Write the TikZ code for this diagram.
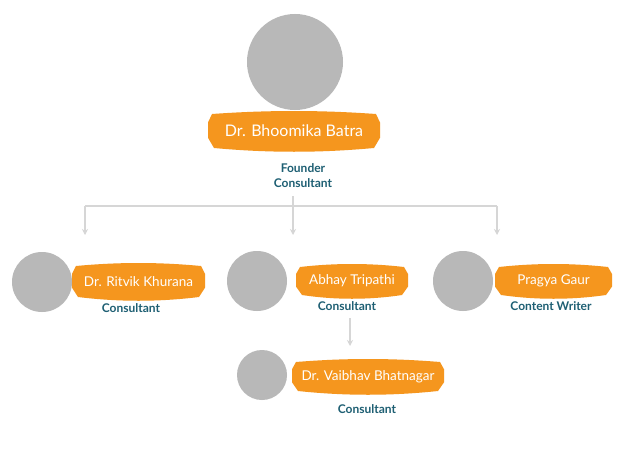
\documentclass[tikz,border=0pt]{standalone}
\usepackage{fontspec}
\setmainfont{Lato}
\definecolor{org}{HTML}{F5961E}
\definecolor{tealc}{HTML}{1E5F73}
\definecolor{lgrey}{HTML}{D6D6D6}
\definecolor{photog}{HTML}{B8B8B8}
\usetikzlibrary{arrows.meta}
\tikzset{
  lbltext/.style={text=white,font=\fontsize{#1}{#1}\selectfont},
  captext/.style={text=tealc,font=\fontsize{12}{15}\selectfont\bfseries,align=center},
  conn/.style={draw=lgrey,line width=1.2pt},
  arr/.style={conn,-{Stealth[length=6pt,width=6pt]}},
  photocirc/.style={fill=photog,circle}
}
% #1 name, #2 x1, #3 x2, #4 ytop, #5 ybot, #6 size, #7 text
\newcommand\orglbl[7]{%
  \pgfmathsetmacro\ym{(#4+#5)/2}%
  \pgfmathsetmacro\hh{#5-#4}%
  \fill[org] (#2,{#4+0.25*\hh}) -- (#2,{#4+0.7*\hh}) -- ({#2+6},#5)
     .. controls ({#2+(#3-#2)*0.35},{#5+5}) and ({#3-(#3-#2)*0.35},{#5+5}) .. ({#3-6},#5)
     -- (#3,{#4+0.7*\hh}) -- (#3,{#4+0.25*\hh}) -- ({#3-4},#4)
     .. controls ({#3-(#3-#2)*0.35},{#4-4}) and ({#2+(#3-#2)*0.35},{#4-4}) .. ({#2+4},#4) -- cycle;
  \node[lbltext=#6] (#1) at ({(#2+#3)/2},\ym) {#7};}
\begin{document}
\begin{tikzpicture}[x=1pt,y=-1pt]
\useasboundingbox[fill=white] (0,0) rectangle (631,452);
% top
\node[photocirc,minimum size=96pt] (p0) at (295,62) {};
\orglbl{l0}{208}{380}{114}{148}{16}{Dr. Bhoomika Batra}
\node[captext] (c0) at (303,176) {Founder\\Consultant};
% connectors
\coordinate (t0) at (293,196);
\coordinate (j0) at (293,206);
\coordinate (jl) at (85,206);
\coordinate (jr) at (497,206);
\coordinate (a1) at (85,235);
\coordinate (a2) at (293,235);
\coordinate (a3) at (497,235);
\draw[conn] (t0) -- (j0);
\draw[conn] (jl) -- (jr);
\draw[arr] (jl) -- (a1);
\draw[arr] (j0) -- (a2);
\draw[arr] (jr) -- (a3);
% row 2
\node[photocirc,minimum size=60pt] (p1) at (42,282) {};
\orglbl{l1}{72}{205}{266}{297}{13.5}{Dr. Ritvik Khurana}
\node[captext] (c1) at (131,308) {Consultant};
\node[photocirc,minimum size=60pt] (p2) at (257,281) {};
\orglbl{l2}{296}{408}{267}{295}{13.5}{Abhay Tripathi}
\node[captext] (c2) at (347,306) {Consultant};
\node[photocirc,minimum size=60pt] (p3) at (463,281) {};
\orglbl{l3}{495}{612}{267}{295}{13.5}{Pragya Gaur}
\node[captext] (c3) at (551,306) {Content Writer};
% row 3
\coordinate (b0) at (350,318);
\coordinate (b1) at (350,346);
\draw[arr] (b0) -- (b1);
\node[photocirc,minimum size=50pt] (p4) at (262,375) {};
\orglbl{l4}{292}{444}{362}{391}{13.5}{Dr. Vaibhav Bhatnagar}
\node[captext] (c4) at (367,409) {Consultant};
\end{tikzpicture}
\end{document}
